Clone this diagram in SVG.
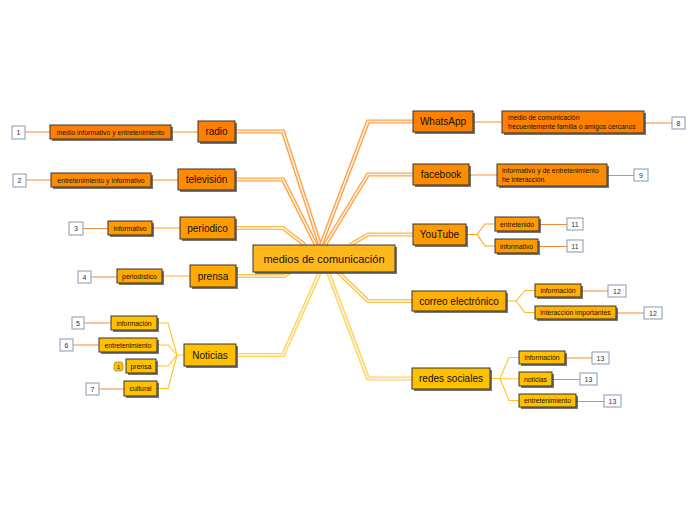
<svg xmlns="http://www.w3.org/2000/svg" width="696" height="520" viewBox="0 0 696 520">
<style>
text{font-family:"Liberation Sans",Arial,sans-serif;fill:#111}
.sh{fill:#4a4a4a;opacity:.75}
.n{stroke:#333;stroke-width:1}
.num{fill:#fff;stroke:#8a98b2;stroke-width:1}
.t10{font-size:10px;text-anchor:middle}
.t11{font-size:11px;text-anchor:middle}
.t7{font-size:6.8px;text-anchor:middle}
.t7l{font-size:6.8px}
.tn{font-size:7px;text-anchor:middle;fill:#333}
.mo{fill:none;stroke-width:4.2;stroke-linejoin:miter}
.mi{fill:none;stroke:#fff6ea;stroke-width:1.4}
.th{fill:none;stroke-width:1.1}
.nl{fill:none;stroke:#f58a3c;stroke-width:1.2}
</style>
<rect width="696" height="520" fill="#fff"/>
<g id="connectors">
<path class="mo" stroke="#ffa04a" d="M237,131.5 L283,131.5 L320,245"/>
<path class="mi" d="M237,131.5 L283,131.5 L320,245"/>
<path class="mo" stroke="#ffa64a" d="M237,179.5 L283,179.5 L316,245"/>
<path class="mi" d="M237,179.5 L283,179.5 L316,245"/>
<path class="mo" stroke="#ffb84a" d="M237,228 L283,228 L305,245"/>
<path class="mi" d="M237,228 L283,228 L305,245"/>
<path class="mo" stroke="#ffc450" d="M238,276 L284,276 L290,272"/>
<path class="mi" d="M238,276 L284,276 L290,272"/>
<path class="mo" stroke="#ffd45a" d="M238,355 L283,355 L320,272"/>
<path class="mi" d="M238,355 L283,355 L320,272"/>
<path class="mo" stroke="#ffa04a" d="M321,245 L368,121.5 L413,121.5"/>
<path class="mi" d="M321,245 L368,121.5 L413,121.5"/>
<path class="mo" stroke="#ffa64a" d="M325,245 L368,174.5 L413,174.5"/>
<path class="mi" d="M325,245 L368,174.5 L413,174.5"/>
<path class="mo" stroke="#ffb84a" d="M350,245 L368,234.5 L413,234.5"/>
<path class="mi" d="M350,245 L368,234.5 L413,234.5"/>
<path class="mo" stroke="#ffc450" d="M338,272 L368,301 L412,301"/>
<path class="mi" d="M338,272 L368,301 L412,301"/>
<path class="mo" stroke="#ffd45a" d="M328,272 L368,378.5 L412,378.5"/>
<path class="mi" d="M328,272 L368,378.5 L412,378.5"/>
<path class="th" stroke="#ff9a40" d="M171,132 L198,132"/>
<path class="th" stroke="#ff9a40" d="M151,180 L178,180"/>
<path class="th" stroke="#ffa530" d="M152,228 L180,228"/>
<path class="th" stroke="#ffb830" d="M162,276 L190,276"/>
<path class="th" stroke="#ffc424" d="M157,323 L168,323 L177,355 M157,345 L168,345 L177,355 M156,366 L168,366 L177,355 M157,388.5 L168,388.5 L177,355 M177,355 L184,355"/>
<path class="th" stroke="#ff9a40" d="M473,122 L502,122"/>
<path class="th" stroke="#ff9a40" d="M469,175 L497,175"/>
<path class="th" stroke="#ffa020" d="M466,234.5 L477,234.5 L485,224 L495,224 M477,234.5 L485,246 L495,246"/>
<path class="th" stroke="#ffb820" d="M506,301 L516,301 L525,290.5 L535,290.5 M516,301 L525,312.5 L535,312.5"/>
<path class="th" stroke="#ffc424" d="M490,378.5 L500,378.5 L509,357.5 L519,357.5 M500,378.5 L519,379 M500,378.5 L509,400.5 L519,400.5"/>
<path class="nl" d="M25,132 L50,132 M26,180 L51,180 M83,228.5 L108,228.5 M91,277 L117,277 M84,323 L111,323 M73,345 L99,345 M99,389 L124,389"/>
<path class="nl" d="M644,123 L672,123 M607,175.5 L634,175.5 M539,224.5 L567,224.5 M538,246.5 L567,246.5 M581,291 L608,291 M616,313 L644,313 M565,358 L592,358 M552,379.5 L580,379.5 M576,401.5 L604,401.5"/>
</g>
<g id="central"><rect class="sh" x="255" y="247" width="142" height="27"/><rect class="n" x="253" y="245" width="142" height="27" fill="#ffb81c"/><text class="t11" x="324" y="262.5">medios de comunicación</text></g>
<g id="radio"><rect class="sh" x="200" y="123" width="37" height="21"/><rect class="n" x="198" y="121" width="37" height="21" fill="#ff8000"/><text class="t10" x="216.5" y="135">radio</text></g>
<g id="television"><rect class="sh" x="180" y="171" width="57" height="21"/><rect class="n" x="178" y="169" width="57" height="21" fill="#ff8c00"/><text class="t10" x="206.5" y="183">televisión</text></g>
<g id="periodico"><rect class="sh" x="182" y="219" width="55" height="22"/><rect class="n" x="180" y="217" width="55" height="22" fill="#ff9a00"/><text class="t10" x="207.5" y="231.5">periodico</text></g>
<g id="prensa"><rect class="sh" x="192" y="267" width="46" height="22"/><rect class="n" x="190" y="265" width="46" height="22" fill="#ffaa00"/><text class="t10" x="213" y="279.5">prensa</text></g>
<g id="noticias"><rect class="sh" x="186" y="346" width="52" height="22"/><rect class="n" x="184" y="344" width="52" height="22" fill="#ffc000"/><text class="t10" x="210" y="358.5">Noticias</text></g>
<g id="whatsapp"><rect class="sh" x="415" y="113" width="60" height="21"/><rect class="n" x="413" y="111" width="60" height="21" fill="#ff8000"/><text class="t10" x="443" y="125">WhatsApp</text></g>
<g id="facebook"><rect class="sh" x="415" y="166" width="56" height="21"/><rect class="n" x="413" y="164" width="56" height="21" fill="#ff8c00"/><text class="t10" x="441" y="178">facebook</text></g>
<g id="youtube"><rect class="sh" x="415" y="226" width="53" height="21"/><rect class="n" x="413" y="224" width="53" height="21" fill="#ff9a00"/><text class="t10" x="439.5" y="238">YouTube</text></g>
<g id="correo"><rect class="sh" x="414" y="293" width="94" height="20"/><rect class="n" x="412" y="291" width="94" height="20" fill="#ffb000"/><text class="t10" x="459" y="304.5">correo electrónico</text></g>
<g id="redes"><rect class="sh" x="414" y="370" width="78" height="21"/><rect class="n" x="412" y="368" width="78" height="21" fill="#ffc000"/><text class="t10" x="451" y="382">redes sociales</text></g>
<g id="d-radio"><rect class="sh" x="52" y="127" width="121" height="14"/><rect class="n" x="50" y="125" width="121" height="14" fill="#ff8000"/><text class="t7" x="110.5" y="134.5">medio informativo y entretenimiento</text></g>
<g id="d-tele"><rect class="sh" x="53" y="175" width="100" height="14"/><rect class="n" x="51" y="173" width="100" height="14" fill="#ff8c00"/><text class="t7" x="101" y="182.5">entretenimiento y informativo</text></g>
<g id="d-periodico"><rect class="sh" x="110" y="223" width="44" height="14"/><rect class="n" x="108" y="221" width="44" height="14" fill="#ff9a00"/><text class="t7" x="130" y="230.5">informativo</text></g>
<g id="d-prensa"><rect class="sh" x="119" y="271" width="45" height="14"/><rect class="n" x="117" y="269" width="45" height="14" fill="#ffaa00"/><text class="t7" x="139.5" y="278.5">periodístico</text></g>
<g id="d-not-info"><rect class="sh" x="113" y="318" width="46" height="14"/><rect class="n" x="111" y="316" width="46" height="14" fill="#ffc000"/><text class="t7" x="134" y="325.5">información</text></g>
<g id="d-not-ent"><rect class="sh" x="101" y="340" width="58" height="14"/><rect class="n" x="99" y="338" width="58" height="14" fill="#ffc000"/><text class="t7" x="128" y="347.5">entretenimiento</text></g>
<g id="d-not-prensa"><rect class="sh" x="128" y="361" width="30" height="14"/><rect class="n" x="126" y="359" width="30" height="14" fill="#ffc000"/><text class="t7" x="141" y="368.5">prensa</text><rect x="114" y="362" width="9" height="9" rx="2.5" fill="#ffc000" stroke="#a08a50" stroke-width=".8"/><text class="t7" x="118.5" y="369" style="font-size:5.5px">1</text></g>
<g id="d-not-cult"><rect class="sh" x="126" y="383" width="33" height="15"/><rect class="n" x="124" y="381" width="33" height="15" fill="#ffc000"/><text class="t7" x="140.5" y="391">cultural</text></g>
<g id="d-whatsapp"><rect class="sh" x="504" y="113" width="142" height="22"/><rect class="n" x="502" y="111" width="142" height="22" fill="#ff8000"/><text class="t7l" x="508" y="120">medio de comunicación</text><text class="t7l" x="508" y="128.5">frecuentemente familia o amigos cercanos</text></g>
<g id="d-facebook"><rect class="sh" x="499" y="166" width="110" height="22"/><rect class="n" x="497" y="164" width="110" height="22" fill="#ff8c00"/><text class="t7l" x="502" y="173">informativo y de entretenimiento</text><text class="t7l" x="502" y="181.5">he interacción.</text></g>
<g id="d-yt-ent"><rect class="sh" x="497" y="219" width="44" height="14"/><rect class="n" x="495" y="217" width="44" height="14" fill="#ff9a00"/><text class="t7" x="517" y="226.5">entretenido</text></g>
<g id="d-yt-inf"><rect class="sh" x="497" y="241" width="43" height="14"/><rect class="n" x="495" y="239" width="43" height="14" fill="#ff9a00"/><text class="t7" x="516.5" y="248.5">informativo</text></g>
<g id="d-correo-info"><rect class="sh" x="537" y="286" width="46" height="13"/><rect class="n" x="535" y="284" width="46" height="13" fill="#ffb000"/><text class="t7" x="558" y="293">información</text></g>
<g id="d-correo-int"><rect class="sh" x="537" y="308" width="81" height="13"/><rect class="n" x="535" y="306" width="81" height="13" fill="#ffb000"/><text class="t7" x="575.5" y="315">interacción importantes</text></g>
<g id="d-redes-info"><rect class="sh" x="521" y="353" width="46" height="13"/><rect class="n" x="519" y="351" width="46" height="13" fill="#ffc000"/><text class="t7" x="542" y="360">información</text></g>
<g id="d-redes-not"><rect class="sh" x="521" y="374" width="33" height="14"/><rect class="n" x="519" y="372" width="33" height="14" fill="#ffc000"/><text class="t7" x="535.5" y="381.5">noticias</text></g>
<g id="d-redes-ent"><rect class="sh" x="521" y="396" width="57" height="13"/><rect class="n" x="519" y="394" width="57" height="13" fill="#ffc000"/><text class="t7" x="547.5" y="403">entretenimiento</text></g>
<g id="n1"><rect class="num" x="12" y="126" width="13" height="13"/><text class="tn" x="18.5" y="135">1</text></g>
<g id="n2"><rect class="num" x="13" y="174" width="13" height="13"/><text class="tn" x="19.5" y="183">2</text></g>
<g id="n3"><rect class="num" x="69" y="222" width="14" height="13"/><text class="tn" x="76" y="231">3</text></g>
<g id="n4"><rect class="num" x="78" y="271" width="13" height="12"/><text class="tn" x="84.5" y="279.5">4</text></g>
<g id="n5"><rect class="num" x="72" y="317" width="12" height="12"/><text class="tn" x="78" y="325.5">5</text></g>
<g id="n6"><rect class="num" x="60" y="339" width="13" height="12"/><text class="tn" x="66.5" y="347.5">6</text></g>
<g id="n7"><rect class="num" x="86" y="383" width="13" height="12"/><text class="tn" x="92.5" y="391.5">7</text></g>
<g id="n8"><rect class="num" x="672" y="117" width="13" height="12"/><text class="tn" x="678.5" y="125.5">8</text></g>
<g id="n9"><rect class="num" x="634" y="169" width="14" height="12"/><text class="tn" x="641" y="177.5">9</text></g>
<g id="n11a"><rect class="num" x="567" y="218" width="16" height="12"/><text class="tn" x="575" y="226.5">11</text></g>
<g id="n11b"><rect class="num" x="567" y="240" width="16" height="12"/><text class="tn" x="575" y="248.5">11</text></g>
<g id="n12a"><rect class="num" x="608" y="285" width="18" height="12"/><text class="tn" x="617" y="293.5">12</text></g>
<g id="n12b"><rect class="num" x="644" y="307" width="18" height="12"/><text class="tn" x="653" y="315.5">12</text></g>
<g id="n13a"><rect class="num" x="592" y="352" width="17" height="12"/><text class="tn" x="600.5" y="360.5">13</text></g>
<g id="n13b"><rect class="num" x="580" y="373" width="17" height="12"/><text class="tn" x="588.5" y="381.5">13</text></g>
<g id="n13c"><rect class="num" x="604" y="395" width="17" height="12"/><text class="tn" x="612.5" y="403.5">13</text></g>
</svg>
